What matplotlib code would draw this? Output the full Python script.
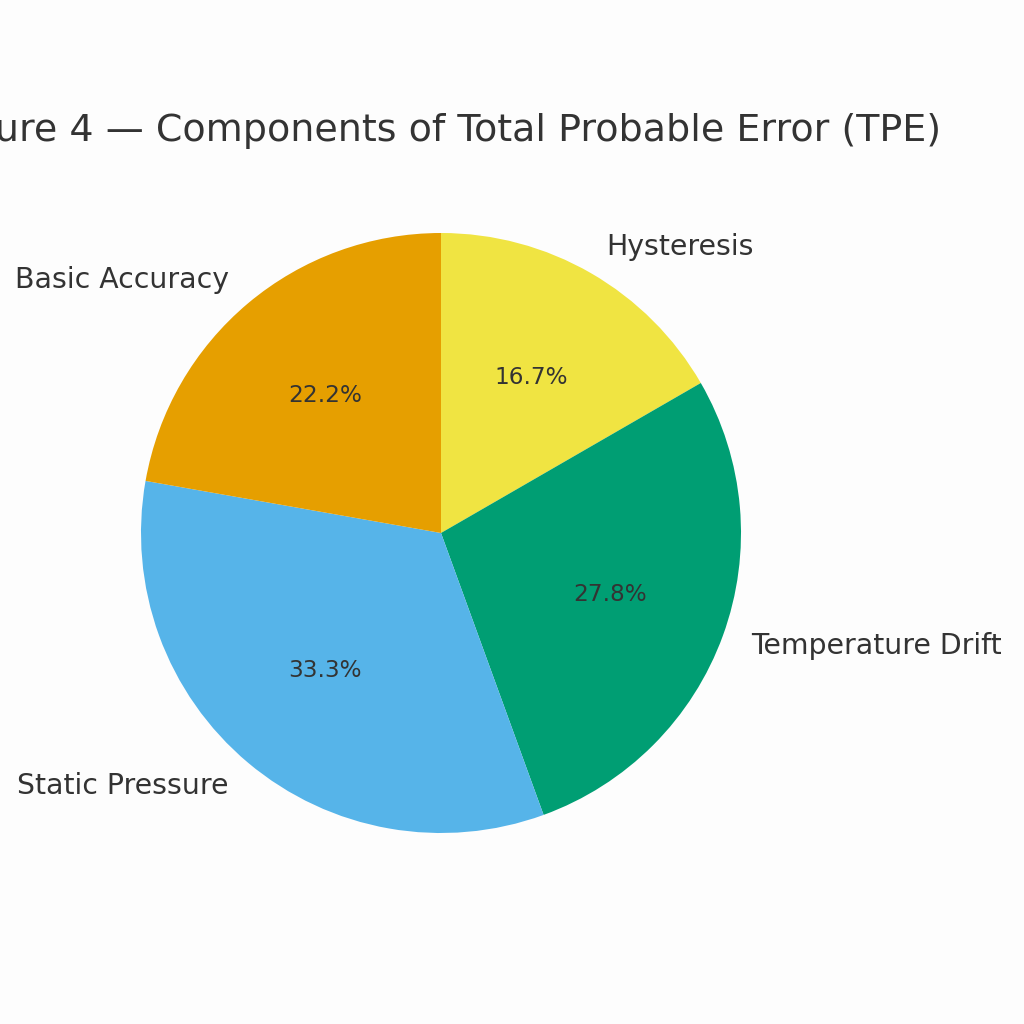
import matplotlib
matplotlib.use("Agg")
import matplotlib.pyplot as plt

# data
labels = ["Hysteresis", "Temperature Drift", "Static Pressure", "Basic Accuracy"]
values = [3, 5, 6, 4]
colors = ["#F0E442", "#009E73", "#56B4E9", "#E69F00"]

title = "Figure 4 \u2014 Components of Total Probable Error (TPE)"
text_color = "#333333"

fig = plt.figure(figsize=(1024 / 150, 1024 / 150), dpi=150, facecolor="#fdfdfd")
# axes placed so the pie sits slightly left of centre, like the original
ax = fig.add_axes([66 / 1024, 116 / 1024, 750 / 1024, 750 / 1024])
ax.set_facecolor("#fdfdfd")

wedges, texts, autotexts = ax.pie(
    values,
    labels=labels,
    colors=colors,
    autopct="%1.1f%%",
    startangle=90,
    counterclock=False,
    textprops={"fontsize": 13.6, "color": text_color},
)
for t in autotexts:
    t.set_fontsize(11.1)
    t.set_color(text_color)

ax.set_aspect("equal")
ax.set_xlim(-1.25, 1.25)
ax.set_ylim(-1.25, 1.25)
ax.set_title(title, fontsize=18.25, color=text_color, pad=8)

fig.savefig("out.png", dpi=150, facecolor=fig.get_facecolor())
